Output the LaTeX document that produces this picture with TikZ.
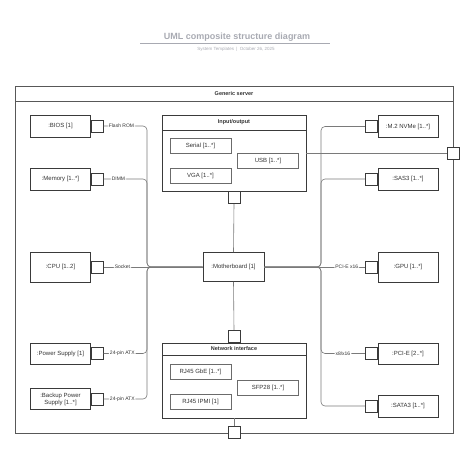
\documentclass[tikz,border=0pt]{standalone}
\usepackage{fontspec}
\setmainfont{Liberation Sans}
\usetikzlibrary{positioning}
\definecolor{boxgray}{HTML}{3A3A3A}
\definecolor{linegray}{HTML}{7A7A7A}
\definecolor{textgray}{HTML}{333333}
\definecolor{titlegray}{HTML}{A8AAB2}

\begin{document}
\begin{tikzpicture}
	[x=1pt, y=-1pt, font=\fontsize{6}{7}\selectfont, text=textgray,
	main/.style = {draw=boxgray, line width=0.8pt, fill=white, minimum width=60pt, minimum height=22pt, inner sep=1pt, align=center},
	port/.style = {draw=boxgray, line width=0.8pt, fill=white, minimum size=12pt, inner sep=0pt},
	part/.style = {draw=boxgray!75, line width=0.6pt, minimum width=61pt, minimum height=15pt, inner sep=1pt},
	frame/.style = {draw=boxgray, line width=0.8pt},
	wire/.style = {draw=linegray, line width=0.6pt, rounded corners=4pt},
	lbl/.style = {fill=white, inner sep=1pt, font=\fontsize{5}{6}\selectfont},
	head/.style = {font=\bfseries\fontsize{5.5}{6.5}\selectfont}]
	\useasboundingbox (0,0) rectangle (474,474);
	% title
	\node[font=\bfseries\fontsize{9}{10}\selectfont, text=titlegray] (title) at (237,37) {UML composite structure diagram};
	\draw[titlegray, line width=0.8pt] (140,43) -- (330,43);
	\node[font=\fontsize{4.5}{5}\selectfont, text=titlegray] (sub) at (236,49.5) {System Templates\enspace|\enspace October 26, 2025};
	% outer frame
	\node[frame, draw=boxgray!85, line width=1pt, minimum width=438pt, minimum height=347pt] (server) at (234,259.5) {};
	\draw[frame, draw=boxgray!85, line width=1pt] (15,101) -- (453,101);
	\node[head] (servert) at (234,93.5) {Generic server};
	\coordinate (lbus) at (147,0);
	\coordinate (rbus) at (321,0);
	% input/output
	\node[frame, minimum width=144pt, minimum height=76pt] (io) at (234,153) {};
	\draw[frame] (162,130) -- (306,130);
	\node[head] (iot) at (234,122.5) {Input/output};
	\node[part] (serial) at (200.5,145.5) {Serial [1..*]};
	\node[part] (usb) at (268,161) {USB [1..*]};
	\node[part] (vga) at (200.5,175.5) {VGA [1..*]};
	\node[port, below=0pt of io] (iop) {};
	% network interface
	\node[frame, minimum width=144pt, minimum height=75pt] (net) at (234,380.5) {};
	\draw[frame] (162,355) -- (306,355);
	\node[head] (nett) at (234,349) {Network interface};
	\node[part] (gbe) at (200.5,371.5) {RJ45 GbE [1..*]};
	\node[part] (sfp) at (268,387.5) {SFP28 [1..*]};
	\node[part] (ipmi) at (200.5,402) {RJ45 IPMI [1]};
	\node[port, above=0pt of net] (netp) {};
	\node[port] (netbp) at (234,432.5) {};
	\node[port] (extusb) at (453,153) {};
	% motherboard
	\node[main, minimum width=61pt, minimum height=29pt] (mb) at (233.5,267) {:Motherboard [1]};
	% left parts
	\node[main] (bios) at (60.5,126) {:BIOS [1]};
	\node[main] (mem) at (60.5,179) {:Memory [1..*]};
	\node[main, minimum height=30pt] (cpu) at (60.5,267) {:CPU [1..2]};
	\node[main, minimum height=21pt] (psu) at (60.5,353.5) {:Power Supply [1]};
	\node[main, minimum height=21pt, inner sep=0pt] (bpsu) at (60.5,399) {:Backup Power\\Supply [1..*]};
	\node[port, right=0pt of bios] (biosp) {};
	\node[port, right=0pt of mem] (memp) {};
	\node[port, right=0pt of cpu] (cpup) {};
	\node[port, right=0pt of psu] (psup) {};
	\node[port, right=0pt of bpsu] (bpsup) {};
	% right parts
	\node[main] (nvme) at (408,126.5) {:M.2 NVMe [1..*]};
	\node[main] (sas) at (408,179) {:SAS3 [1..*]};
	\node[main, minimum height=30pt] (gpu) at (408,267) {:GPU [1..*]};
	\node[main, minimum height=21pt] (pcie) at (408,353.5) {:PCI-E [2..*]};
	\node[main] (sata) at (408,406) {:SATA3 [1..*]};
	\node[port, left=0pt of nvme] (nvmep) {};
	\node[port, left=0pt of sas] (sasp) {};
	\node[port, left=0pt of gpu] (gpup) {};
	\node[port, left=0pt of pcie] (pciep) {};
	\node[port, left=0pt of sata] (satap) {};
	% connectors
	\draw[wire] (iop.south) -- (mb.north);
	\draw[wire] (mb.south) -- (netp.north);
	\draw[wire] (net.south) -- (netbp.north);
	\draw[wire] (io.east) -- (extusb.west);
	\draw[wire] (biosp.east) -- node[lbl, pos=0.41] {Flash ROM} (biosp.east -| lbus) -- (lbus |- mb.west) -- (mb.west);
	\draw[wire] (memp.east) -- node[lbl, pos=0.34] {DIMM} (memp.east -| lbus) -- (lbus |- mb.west) -- (mb.west);
	\draw[wire] (cpup.east) -- node[lbl, pos=0.19] {Socket} (mb.west);
	\draw[wire] (psup.east) -- node[lbl, pos=0.43] {24-pin ATX} (psup.east -| lbus) -- (lbus |- mb.west) -- (mb.west);
	\draw[wire] (bpsup.east) -- node[lbl, pos=0.43] {24-pin ATX} (bpsup.east -| lbus) -- (lbus |- mb.west) -- (mb.west);
	\draw[wire] (mb.east) -- (rbus |- mb.east) -- (rbus |- nvmep.west) -- (nvmep.west);
	\draw[wire] (mb.east) -- (rbus |- mb.east) -- (rbus |- sasp.west) -- (sasp.west);
	\draw[wire] (mb.east) -- (gpup.west) node[lbl, pos=0.82] {PCI-E x16};
	\draw[wire] (mb.east) -- (rbus |- mb.east) -- (rbus |- pciep.west) -- node[lbl, pos=0.5] {x8/x16} (pciep.west);
	\draw[wire] (mb.east) -- (rbus |- mb.east) -- (rbus |- satap.west) -- (satap.west);
\end{tikzpicture}
\end{document}
